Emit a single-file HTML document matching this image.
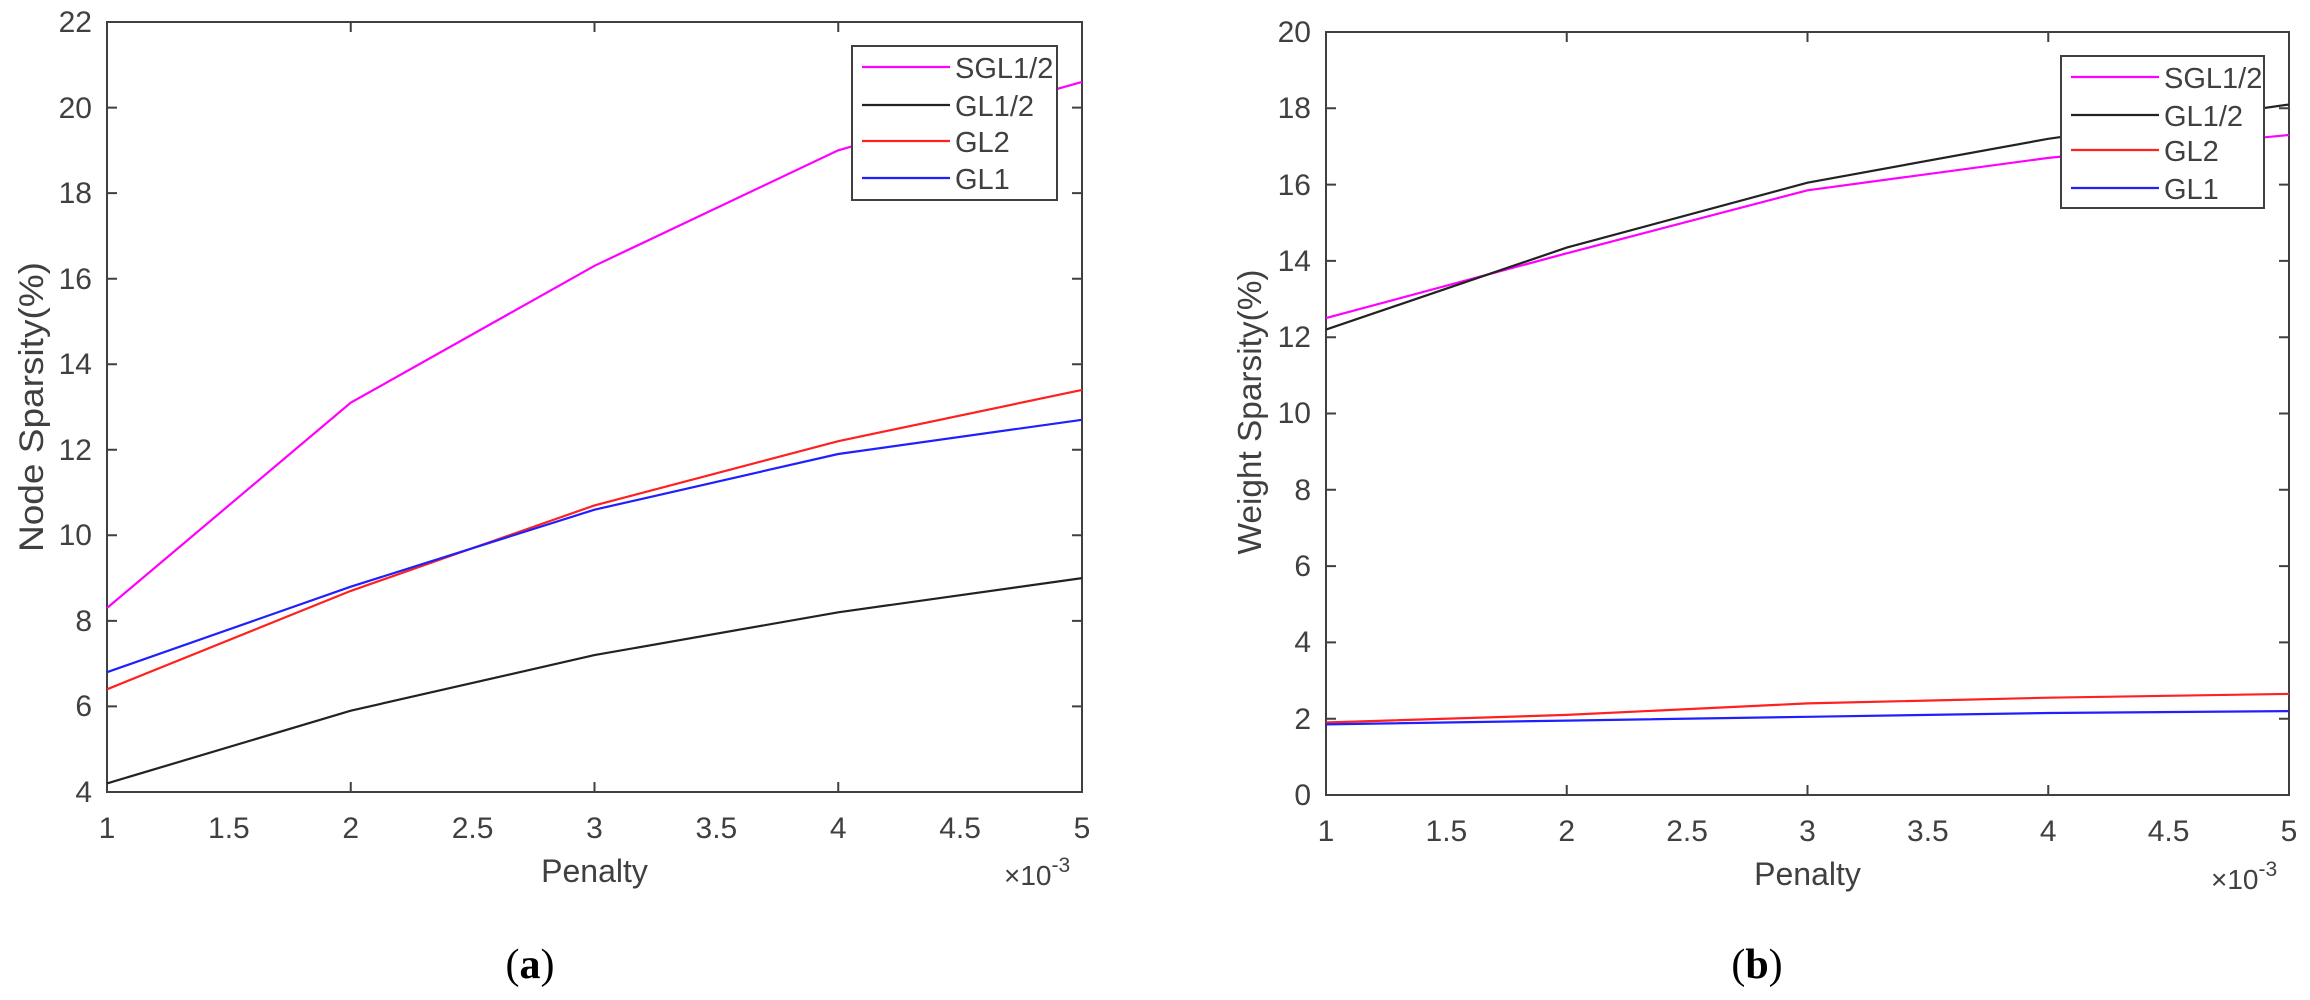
<!DOCTYPE html>
<html><head><meta charset="utf-8"><style>
html,body{margin:0;padding:0;background:#fff;width:2310px;height:1000px;overflow:hidden}
svg{display:block}
text{font-family:"Liberation Sans",sans-serif;fill:#404040}
</style></head><body>
<svg width="2310" height="1000" xmlns="http://www.w3.org/2000/svg">
<g font-size="30">
<!-- LEFT PLOT -->
<g stroke="#404040" stroke-width="2" fill="none">
<rect x="107" y="22" width="975" height="770"/>
<path d="M350.75,792v-10M594.5,792v-10M838.25,792v-10M350.75,22v10M594.5,22v10M838.25,22v10
M107,706.4h10M107,620.9h10M107,535.3h10M107,449.8h10M107,364.2h10M107,278.7h10M107,193.1h10M107,107.6h10
M1082,706.4h-10M1082,620.9h-10M1082,535.3h-10M1082,449.8h-10M1082,364.2h-10M1082,278.7h-10M1082,193.1h-10M1082,107.6h-10"/>
</g>
<g fill="none" stroke-width="2.2">
<polyline stroke="#ff00ff" points="107,608 350.75,402.7 594.5,265.8 838.25,150.3 1082,81.9"/>
<polyline stroke="#222" points="107,783.4 350.75,710.7 594.5,655.1 838.25,612.3 1082,578.1"/>
<polyline stroke="#ff2020" points="107,689.3 350.75,590.9 594.5,505.4 838.25,441.2 1082,389.9"/>
<polyline stroke="#2020ff" points="107,672.2 350.75,586.7 594.5,509.7 838.25,454 1082,419.8"/>
</g>
<g text-anchor="end">
<text x="92" y="802">4</text><text x="92" y="716">6</text><text x="92" y="631">8</text><text x="92" y="545">10</text><text x="92" y="460">12</text><text x="92" y="374">14</text><text x="92" y="289">16</text><text x="92" y="203">18</text><text x="92" y="118">20</text><text x="92" y="32">22</text>
</g>
<g text-anchor="middle">
<text x="107" y="838">1</text><text x="228.9" y="838">1.5</text><text x="350.75" y="838">2</text><text x="472.6" y="838">2.5</text><text x="594.5" y="838">3</text><text x="716.4" y="838">3.5</text><text x="838.25" y="838">4</text><text x="960.1" y="838">4.5</text><text x="1082" y="838">5</text>
<text x="594.5" y="882" font-size="32">Penalty</text>
<text transform="translate(43,407) rotate(-90)" font-size="34" textLength="290" lengthAdjust="spacingAndGlyphs">Node Sparsity(%)</text>
</g>
<text x="1004" y="885" font-size="28">×10<tspan font-size="21" dy="-13">-3</tspan></text>
<rect x="852" y="46" width="205" height="154" fill="#fff" stroke="#404040" stroke-width="2"/>
<g stroke-width="2.2">
<line x1="862" y1="67" x2="950" y2="67" stroke="#ff00ff"/>
<line x1="862" y1="105" x2="950" y2="105" stroke="#222"/>
<line x1="862" y1="141" x2="950" y2="141" stroke="#ff2020"/>
<line x1="862" y1="178" x2="950" y2="178" stroke="#2020ff"/>
</g>
<g font-size="29"><text x="955" y="78">SGL1/2</text><text x="955" y="116">GL1/2</text><text x="955" y="152">GL2</text><text x="955" y="189">GL1</text></g>

<!-- RIGHT PLOT -->
<g stroke="#404040" stroke-width="2" fill="none">
<rect x="1326" y="32" width="963" height="763"/>
<path d="M1566.75,795v-10M1807.5,795v-10M2048.25,795v-10M1566.75,32v10M1807.5,32v10M2048.25,32v10
M1326,718.7h10M1326,642.4h10M1326,566.1h10M1326,489.8h10M1326,413.5h10M1326,337.2h10M1326,260.9h10M1326,184.6h10M1326,108.3h10
M2289,718.7h-10M2289,642.4h-10M2289,566.1h-10M2289,489.8h-10M2289,413.5h-10M2289,337.2h-10M2289,260.9h-10M2289,184.6h-10M2289,108.3h-10"/>
</g>
<g fill="none" stroke-width="2.2">
<polyline stroke="#ff00ff" points="1326,318.1 1566.75,253.3 1807.5,190.3 2048.25,157.9 2289,135"/>
<polyline stroke="#222" points="1326,329.6 1566.75,247.6 1807.5,182.7 2048.25,138.8 2289,104.5"/>
<polyline stroke="#ff2020" points="1326,722.5 1566.75,714.9 1807.5,703.4 2048.25,697.7 2289,693.9"/>
<polyline stroke="#2020ff" points="1326,724.4 1566.75,720.6 1807.5,716.8 2048.25,713 2289,711.1"/>
</g>
<g text-anchor="end">
<text x="1311" y="805">0</text><text x="1311" y="729">2</text><text x="1311" y="652">4</text><text x="1311" y="576">6</text><text x="1311" y="500">8</text><text x="1311" y="423">10</text><text x="1311" y="347">12</text><text x="1311" y="271">14</text><text x="1311" y="195">16</text><text x="1311" y="118">18</text><text x="1311" y="42">20</text>
</g>
<g text-anchor="middle">
<text x="1326" y="841">1</text><text x="1446.4" y="841">1.5</text><text x="1566.75" y="841">2</text><text x="1687.1" y="841">2.5</text><text x="1807.5" y="841">3</text><text x="1927.9" y="841">3.5</text><text x="2048.25" y="841">4</text><text x="2168.6" y="841">4.5</text><text x="2289" y="841">5</text>
<text x="1807.5" y="885" font-size="32">Penalty</text>
<text transform="translate(1261,412) rotate(-90)" font-size="33" textLength="285" lengthAdjust="spacingAndGlyphs">Weight Sparsity(%)</text>
</g>
<text x="2211" y="889" font-size="28">×10<tspan font-size="21" dy="-13">-3</tspan></text>
<rect x="2061" y="56" width="203" height="152" fill="#fff" stroke="#404040" stroke-width="2"/>
<g stroke-width="2.2">
<line x1="2071" y1="77" x2="2159" y2="77" stroke="#ff00ff"/>
<line x1="2071" y1="115" x2="2159" y2="115" stroke="#222"/>
<line x1="2071" y1="150" x2="2159" y2="150" stroke="#ff2020"/>
<line x1="2071" y1="188" x2="2159" y2="188" stroke="#2020ff"/>
</g>
<g font-size="29"><text x="2164" y="88">SGL1/2</text><text x="2164" y="126">GL1/2</text><text x="2164" y="161">GL2</text><text x="2164" y="199">GL1</text></g>
</g>
<text x="530" y="978" text-anchor="middle" font-size="42" style="font-family:'Liberation Serif',serif;fill:#000">(<tspan font-weight="bold">a</tspan>)</text>
<text x="1757" y="978" text-anchor="middle" font-size="42" style="font-family:'Liberation Serif',serif;fill:#000">(<tspan font-weight="bold">b</tspan>)</text>
</svg>
</body></html>
